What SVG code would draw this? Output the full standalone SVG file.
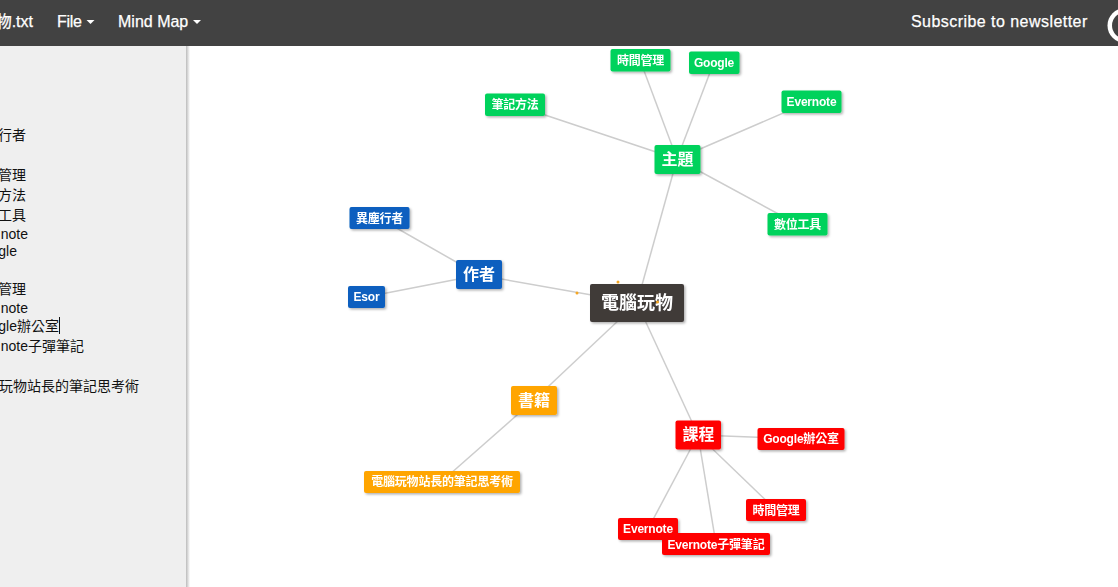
<svg xmlns="http://www.w3.org/2000/svg" width="1118" height="587" viewBox="0 0 1118 587">
<style>
text{font-family:"Liberation Sans","Noto Sans CJK TC",sans-serif}
.nav{fill:#fff;font-size:16px;stroke:#fff;stroke-width:.25px}
.side{fill:#111;font-size:14px}
.l{fill:#fff;font-size:12px;font-weight:bold;text-anchor:middle;letter-spacing:-.2px}
.m{fill:#fff;font-size:16px;font-weight:bold;text-anchor:middle}
.g rect{fill:#00d25b}.b rect{fill:#0a5fbf}.r rect{fill:#ff0000}.o rect{fill:#ffa500}
.e line{stroke:#cdcdcd;stroke-width:1.5}
</style>
<defs>
<filter id="s" x="-20%" y="-30%" width="140%" height="160%"><feDropShadow dx="1.5" dy="1.5" stdDeviation="1.2" flood-color="#000" flood-opacity=".3"/></filter>
<linearGradient id="sh"><stop offset="0" stop-color="#bbb"/><stop offset="1" stop-color="#fff"/></linearGradient>
</defs>
<rect width="1118" height="587" fill="#fff"/>
<rect y="46" width="186" height="541" fill="#efefef"/>
<rect x="186" y="46" width="4" height="541" fill="url(#sh)"/>
<rect width="1118" height="46" fill="#424242"/>
<g id="navbar">
<text class="nav" x="33" y="27" text-anchor="end">物.txt</text>
<text class="nav" x="57" y="27" letter-spacing="-.3">File</text>
<path d="M86.500 20h8l-4 4z" fill="#fff"/>
<text class="nav" x="118" y="27">Mind Map</text>
<path d="M193 20h8l-4 4z" fill="#fff"/>
<text class="nav" x="911" y="27" letter-spacing=".45">Subscribe to newsletter</text>
<circle cx="1125" cy="25.500" r="17.500" fill="#fff"/>
<circle cx="1125" cy="25.500" r="13" fill="#424242"/>
<path d="M1118 32q2 4 7 5v4h-7z" fill="#fff"/>
</g>
<g id="editor">
<text class="side" x="26" y="140" text-anchor="end">行者</text>
<text class="side" x="26" y="180" text-anchor="end">管理</text>
<text class="side" x="26" y="200" text-anchor="end">方法</text>
<text class="side" x="26" y="220" text-anchor="end">工具</text>
<text class="side" x="28" y="239" text-anchor="end">note</text>
<text class="side" x="17" y="256" text-anchor="end">gle</text>
<text class="side" x="26" y="294" text-anchor="end">管理</text>
<text class="side" x="28" y="313" text-anchor="end">note</text>
<text class="side" x="59" y="331" text-anchor="end">gle辦公室</text>
<rect x="59" y="317" width="1" height="17" fill="#111"/>
<text class="side" x="84" y="351" text-anchor="end">note子彈筆記</text>
<text class="side" x="139" y="391" text-anchor="end">玩物站長的筆記思考術</text>
</g>
<g id="connectors" class="e">
<line x1="637" y1="303" x2="677" y2="159"/>
<line x1="637" y1="303" x2="479" y2="275"/>
<line x1="637" y1="303" x2="534" y2="400"/>
<line x1="637" y1="303" x2="698" y2="435"/>
<line x1="677" y1="159" x2="640" y2="60"/>
<line x1="677" y1="159" x2="714" y2="62"/>
<line x1="677" y1="159" x2="811" y2="101"/>
<line x1="677" y1="159" x2="515" y2="105"/>
<line x1="677" y1="159" x2="797" y2="224"/>
<line x1="479" y1="275" x2="379" y2="218"/>
<line x1="479" y1="275" x2="366" y2="297"/>
<line x1="534" y1="400" x2="441" y2="482"/>
<line x1="698" y1="435" x2="801" y2="439"/>
<line x1="698" y1="435" x2="776" y2="510"/>
<line x1="698" y1="435" x2="648" y2="529"/>
<line x1="698" y1="435" x2="716" y2="544"/>
</g>
<g id="n-root" filter="url(#s)"><rect x="590" y="284" width="94" height="38" rx="2" fill="#3f3a39"/><text x="637" y="309" fill="#fff" font-size="18" font-weight="bold" text-anchor="middle">電腦玩物</text></g>
<g id="n-topic" class="g" filter="url(#s)"><rect x="654.500" y="145" width="46" height="29" rx="2"/><text class="m" x="677.500" y="165">主題</text></g>
<g id="n-t1" class="g" filter="url(#s)"><rect x="610.500" y="49" width="60" height="22.500" rx="2"/><text class="l" x="640.500" y="64.500">時間管理</text></g>
<g id="n-t2" class="g" filter="url(#s)"><rect x="689" y="51.500" width="50.500" height="22.500" rx="2"/><text class="l" x="714" y="67">Google</text></g>
<g id="n-t3" class="g" filter="url(#s)"><rect x="781.500" y="90.500" width="60" height="22.500" rx="2"/><text class="l" x="811.500" y="106">Evernote</text></g>
<g id="n-t4" class="g" filter="url(#s)"><rect x="485" y="93.500" width="60" height="22.500" rx="2"/><text class="l" x="515" y="109">筆記方法</text></g>
<g id="n-t5" class="g" filter="url(#s)"><rect x="767.500" y="213" width="60" height="22.500" rx="2"/><text class="l" x="797.500" y="228.500">數位工具</text></g>
<g id="n-author" class="b" filter="url(#s)"><rect x="456" y="260" width="46" height="29" rx="2"/><text class="m" x="479" y="279.500">作者</text></g>
<g id="n-a1" class="b" filter="url(#s)"><rect x="349.500" y="207" width="60" height="22" rx="2"/><text class="l" x="379.500" y="222.500">異塵行者</text></g>
<g id="n-a2" class="b" filter="url(#s)"><rect x="348" y="286" width="37" height="22" rx="2"/><text class="l" x="366.500" y="301">Esor</text></g>
<g id="n-book" class="o" filter="url(#s)"><rect x="511" y="386" width="46" height="29" rx="2"/><text class="m" x="534" y="406">書籍</text></g>
<g id="n-b1" class="o" filter="url(#s)"><rect x="364" y="471" width="156" height="22" rx="2"/><text class="l" x="442" y="486">電腦玩物站長的筆記思考術</text></g>
<g id="n-course" class="r" filter="url(#s)"><rect x="675.500" y="420.500" width="45.500" height="29" rx="2"/><text class="m" x="698.500" y="440">課程</text></g>
<g id="n-c1" class="r" filter="url(#s)"><rect x="757.500" y="428" width="87" height="22" rx="2"/><text class="l" x="801" y="443">Google辦公室</text></g>
<g id="n-c2" class="r" filter="url(#s)"><rect x="746" y="499" width="60" height="22" rx="2"/><text class="l" x="776" y="514.500">時間管理</text></g>
<g id="n-c3" class="r" filter="url(#s)"><rect x="618" y="518" width="60" height="22" rx="2"/><text class="l" x="648" y="533">Evernote</text></g>
<g id="n-c4" class="r" filter="url(#s)"><rect x="662" y="533" width="108" height="22" rx="2"/><text class="l" x="716" y="548.500">Evernote子彈筆記</text></g>
<g id="sparks" fill="#f5a623">
<circle cx="577" cy="293" r="1.500"/><circle cx="618" cy="282" r="1.500"/><circle cx="657.500" cy="302" r="1.500"/>
</g>
</svg>
